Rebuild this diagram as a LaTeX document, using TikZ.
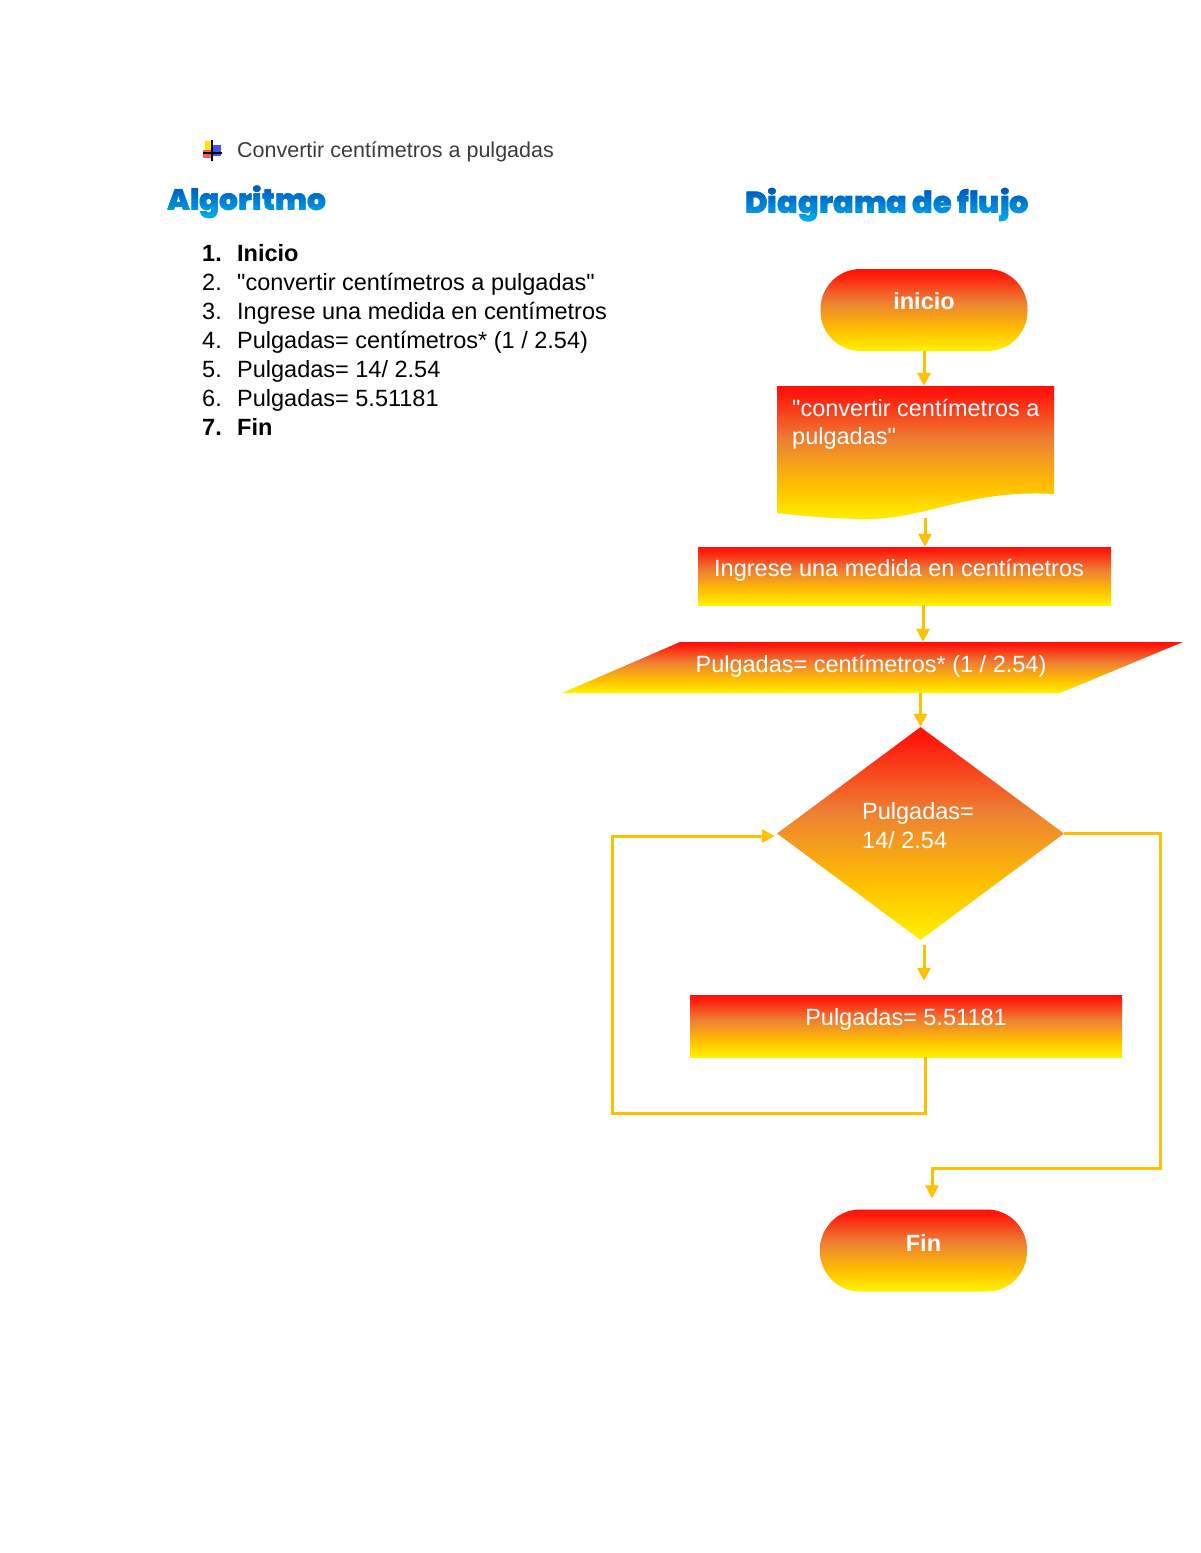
\documentclass[tikz,border=0pt]{standalone}
\usepackage{fontspec}
\usepackage{graphicx}
\setmainfont{Liberation Sans}[Ligatures=TeXOff]
\newfontfamily\titlefont{Poppins Black}
\usetikzlibrary{shapes.geometric,arrows.meta}
\definecolor{conn}{RGB}{255,192,0}
\definecolor{ttltop}{RGB}{0,85,185}
\definecolor{ttlbot}{RGB}{0,180,245}
\definecolor{hdrc}{RGB}{60,60,60}
\pgfdeclareverticalshading{fire}{100bp}{rgb(0bp)=(1,0.95,0); rgb(25bp)=(1,0.95,0); rgb(38bp)=(1,0.75,0); rgb(55bp)=(0.93,0.5,0.2); rgb(72bp)=(1,0.1,0.05); rgb(75bp)=(1,0.06,0.03); rgb(100bp)=(1,0.06,0.03)}
\newcommand\algtitle{\resizebox{159pt}{!}{\titlefont Algoritmo}}
\newcommand\diagtitle{\resizebox{284pt}{!}{\titlefont Diagrama de flujo}}
\tikzset{
  firefill/.style={shade, shading=fire},
  term/.style={firefill, rounded corners=40pt, minimum width=207pt, minimum height=82pt, inner sep=0pt},
  box/.style={firefill, inner sep=0pt},
  wtext/.style={text=white, font=\fontsize{23.5}{28}\selectfont, inner sep=0pt},
  wbold/.style={text=white, font=\fontsize{23.5}{28}\selectfont\bfseries, inner sep=0pt},
  flow/.style={draw=conn, line width=3pt, -{Triangle[width=13pt,length=13pt]}},
  ltext/.style={inner sep=0pt, anchor=base west, font=\fontsize{23.5}{28}\selectfont},
  lbold/.style={inner sep=0pt, anchor=base west, font=\fontsize{23.5}{28}\selectfont\bfseries},
  titlebox/.style={inner sep=0pt, anchor=base west},
}
\begin{document}
\begin{tikzpicture}[x=1pt,y=-1pt]
\fill[white] (0,0) rectangle (1200,1553);
\useasboundingbox (0,0) rectangle (1200,1553);

% bullet icon
\fill[yellow!90!orange] (205,141) rectangle (213,151);
\fill[red!65] (203,150) rectangle (212,158);
\fill[blue!70] (212,145) rectangle (221,156);
\draw[black, line width=2pt] (212,140) -- (212,161);
\draw[black, line width=2pt] (203,152.5) -- (222,152.5);
\node[anchor=base west, inner sep=0pt, text=hdrc, font=\fontsize{21.5}{26}\selectfont] (hdr) at (237,157) {Convertir centímetros a pulgadas};

% titles (banded vertical gradient)
\node[titlebox, text=ttlbot] (talg) at (167,210) {\algtitle};
\node[titlebox, text=ttlbot] (tdiag) at (745,213) {\diagtitle};
\foreach \k in {0,...,8} {
  \pgfmathsetmacro\pc{100-\k*11}
  \pgfmathsetmacro\ya{\k==0 ? 160 : 183+\k*4}
  \pgfmathsetmacro\yb{187+\k*4}
  \begin{scope}
    \clip (150,\ya) rectangle (340,\yb);
    \node[titlebox, text=ttltop!\pc!ttlbot] (talg\k) at (167,210) {\algtitle};
  \end{scope}
  \begin{scope}
    \clip (730,\ya+3) rectangle (1050,\yb+3);
    \node[titlebox, text=ttltop!\pc!ttlbot] (tdiag\k) at (745,213) {\diagtitle};
  \end{scope}
}

% algorithm list
\node[lbold] (n1) at (202,261) {1.};
\node[lbold] (i1) at (237,261) {Inicio};
\node[ltext] (n2) at (202,290.5) {2.};
\node[ltext] (i2) at (237,290.5) {"convertir centímetros a pulgadas"};
\node[ltext] (n3) at (202,319.5) {3.};
\node[ltext] (i3) at (237,319.5) {Ingrese una medida en centímetros};
\node[ltext] (n4) at (202,348.5) {4.};
\node[ltext] (i4) at (237,348.5) {Pulgadas= centímetros* (1 / 2.54)};
\node[ltext] (n5) at (202,377.5) {5.};
\node[ltext] (i5) at (237,377.5) {Pulgadas= 14/ 2.54};
\node[ltext] (n6) at (202,406.5) {6.};
\node[ltext] (i6) at (237,406.5) {Pulgadas= 5.51181};
\node[lbold] (n7) at (202,435.5) {7.};
\node[lbold] (i7) at (237,435.5) {Fin};

% flowchart shapes
\node[term] (ini) at (924,310) {};
\node[wbold, anchor=base] (tini) at (924,309) {inicio};

\node[inner sep=0pt, minimum width=277pt, minimum height=132pt] (doc) at (915.5,452) {};
\shade[shading=fire] (777,386) -- (1054,386) -- (1054,494)
  .. controls (965,489) and (925,521) .. (860,519)
  .. controls (820,518) and (795,515) .. (777,513) -- cycle;
\node[wtext, anchor=base west] (tdoc1) at (792,416) {"convertir centímetros a};
\node[wtext, anchor=base west] (tdoc2) at (792,444) {pulgadas"};

\node[box, minimum width=413pt, minimum height=58pt] (ing) at (904.5,576) {};
\node[wtext, anchor=base west] (ting) at (714,576) {Ingrese una medida en centímetros};

\node[inner sep=0pt, minimum width=621pt, minimum height=51pt] (par) at (872.5,667.5) {};
\shade[shading=fire] (680,642) -- (1183,642) -- (1060,693) -- (562,693) -- cycle;
\node[wtext, anchor=base] (tpar) at (871,672) {Pulgadas= centímetros* (1 / 2.54)};

\node[diamond, firefill, inner sep=0pt, minimum width=287pt, minimum height=213pt] (dia) at (920.5,833.5) {};
\node[wtext, anchor=base west] (tdia1) at (862,819) {Pulgadas=};
\node[wtext, anchor=base west] (tdia2) at (862,848) {14/ 2.54};

\node[box, minimum width=432pt, minimum height=62pt] (res) at (906,1026) {};
\node[wtext, anchor=base] (tres) at (906,1025) {Pulgadas= 5.51181};

\node[term] (fin) at (923.5,1250.5) {};
\node[wbold, anchor=base] (tfin) at (923.5,1251) {Fin};

% connectors
\coordinate (a2s) at (925,518);
\coordinate (a3s) at (923,605);
\coordinate (rc) at (932,1168);
\draw[flow] (ini.south) -- (ini.south |- doc.north);
\draw[flow] (a2s) -- (a2s |- ing.north);
\draw[flow] (a3s) -- (a3s |- par.north);
\draw[flow] (par.south -| dia.north) -- (dia.north);
\draw[flow, shorten <=5pt, shorten >=14pt] ([xshift=3.5pt]dia.south) -- ([xshift=3.5pt]dia.south |- res.north);
\draw[flow] ([xshift=19pt]res.south) -- ++(0,56) -| ([xshift=-164pt,yshift=-2.5pt]dia.west) -- ([xshift=-2pt,yshift=-2.5pt]dia.west);
\draw[flow, shorten >=11pt] (dia.east) -- (1160,833.5) |- (rc) -- (rc |- fin.north);
\end{tikzpicture}
\end{document}
